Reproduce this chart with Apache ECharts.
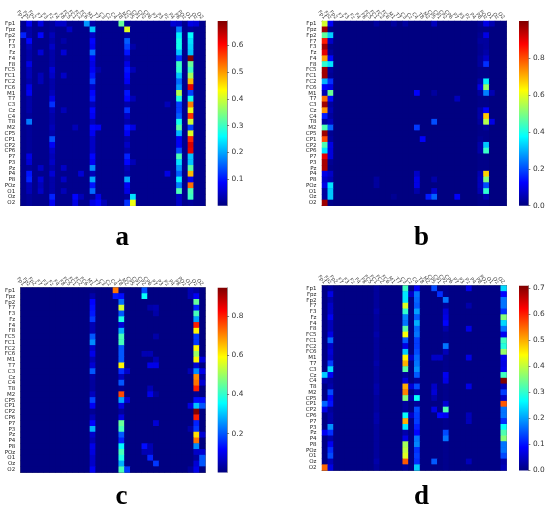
<!DOCTYPE html>
<html><head><meta charset="utf-8">
<style>html,body{margin:0;padding:0;background:#fff}#c{width:550px;height:512px;filter:blur(0.4px)}</style>
<script src="https://cdn.jsdelivr.net/npm/echarts@6/dist/echarts.min.js"></script>
</head><body><div id="c"></div>
<script>
const channels = ['Fp1','Fpz','Fp2','F7','F3','Fz','F4','F8','FC5','FC1','FC2','FC6','M1','T7','C3','Cz','C4','T8','M2','CP5','CP1','CP2','CP6','P7','P3','Pz','P4','P8','POz','O1','Oz','O2'];

// Panel a: full columns (top to bottom) and sparse cells [column, row, value]
const aCol1  = [.08,.03,.03,.09,.04,.03,.03,.07,.04,.04,.03,.07,.08,.03,.03,.03,.02,.17,.02,.02,.02,.02,.02,.07,.06,.02,.1,.11,.04,.04,.02,.02];
const aCol5  = [.02,.02,.04,.03,.05,.03,.03,.03,.06,.05,.03,.03,.04,.07,.12,.04,.03,.03,.04,.03,.14,.08,.05,.04,.05,.03,.06,.03,.03,.03,.11,.08];
const aCol12 = [.03,.22,.05,.09,.08,.16,.08,.07,.08,.1,.13,.05,.09,.1,.04,.09,.08,.04,.09,.08,.05,.05,.05,.09,.08,.18,.04,.2,.1,.16,.02,.07];
const aCol18 = [.02,.41,.03,.15,.13,.1,.04,.07,.1,.09,.08,.03,.1,.09,.03,.12,.05,.03,.1,.08,.03,.05,.03,.11,.09,.04,.03,.2,.08,.07,.02,.12];
const aCol27 = [.05,.17,.25,.27,.27,.22,.12,.3,.29,.22,.16,.19,.38,.28,.13,.13,.15,.27,.32,.21,.08,.08,.14,.31,.24,.19,.15,.25,.17,.31,.05,.05];
const aCol29 = [.07,.02,.26,.24,.23,.22,.69,.33,.3,.37,.48,.62,.13,.27,.52,.42,.57,.4,.13,.41,.58,.63,.62,.22,.22,.32,.48,.08,.53,.31,.3,.02];
const aSparse = [[0,2,.11],[3,0,.07],[3,2,.09],[3,5,.06],[3,9,.04],[3,10,.04],[3,25,.05],[3,27,.06],[3,28,.04],[3,29,.05],[6,0,.05],[7,0,.05],[7,3,.03],[7,5,.06],[7,9,.05],[7,15,.04],[7,25,.05],[7,27,.05],[7,29,.04],[8,1,.05],[9,18,.04],[9,30,.09],[9,31,.07],[10,26,.06],[10,30,.04],[11,0,.19],[13,18,.08],[13,30,.07],[13,31,.09],[13,8,.03],[14,31,.04],[17,0,.33],[19,18,.07],[19,4,.03],[19,8,.04],[19,13,.04],[19,24,.04],[19,30,.24],[19,31,.42],[25,14,.04],[25,26,.07],[26,0,.06],[30,0,.06]];

// Panel b
const bCol0  = [.58,.97,.47,.85,.97,.9,.72,.42,.97,.97,.3,.12,.05,.77,.97,.73,.15,.03,.45,.97,.8,.45,.35,.9,.96,.96,.1,.07,.1,.03,.03,.97];
const bCol1  = [.12,.01,.33,.07,.01,.03,.13,.35,.03,.02,.17,.1,.48,.13,.03,.05,.03,.06,.22,.02,.03,.1,.09,.09,.02,.01,.07,.05,.35,.32,.32,.01];
const bCol27 = [.02,.01,.02,.03,.02,.02,.03,.03,.01,.01,.04,.1,.03,.01,.01,.04,.04,.03,.01,.01,.02,.04,.04,.01,.01,.01,.05,.06,.06,.05,.01,.01];
const bCol28 = [.1,.01,.1,.03,.03,.04,.07,.17,.01,.01,.36,.52,.25,.01,.01,.12,.68,.55,.03,.01,.01,.32,.43,.01,.01,.01,.67,.5,.2,.42,.05,.01];
const bSparse = [[9,0,.03],[9,27,.03],[9,28,.03],[12,0,.03],[12,30,.02],[14,0,.03],[16,12,.12],[16,18,.18],[16,26,.07],[16,27,.1],[16,28,.1],[16,29,.04],[17,20,.12],[18,30,.15],[19,0,.06],[19,12,.03],[19,17,.2],[19,27,.04],[19,29,.08],[19,30,.22],[23,13,.06],[23,30,.12],[29,0,.05],[29,12,.05],[29,17,.1]];

// Panel c
const cCol12 = [.01,.04,.12,.13,.14,.17,.05,.05,.2,.25,.07,.1,.05,.08,.2,.04,.03,.03,.06,.18,.11,.02,.05,.12,.28,.07,.05,.1,.09,.07,.07,.11];
const cCol17 = [.01,.13,.22,.55,.2,.38,.08,.28,.42,.42,.2,.2,.2,.6,.16,.06,.2,.02,.76,.27,.09,.03,.09,.45,.42,.2,.15,.35,.42,.38,.28,.42];
const cCol30 = [.03,.11,.45,.15,.42,.27,.8,.6,.17,.17,.6,.5,.6,.08,.25,.7,.72,.8,.02,.13,.3,.94,.8,.15,.17,.62,.72,.25,.07,.03,.08,.1];
const cSparse = [[16,0,.72],[16,1,.14],[18,14,.07],[18,19,.08],[18,31,.17],[21,0,.19],[21,1,.36],[21,11,.05],[21,27,.13],[21,28,.05],[22,3,.04],[22,11,.05],[22,13,.1],[22,17,.05],[22,18,.1],[22,27,.05],[22,28,.05],[22,29,.15],[23,3,.05],[23,4,.04],[23,8,.04],[23,12,.05],[23,13,.1],[23,18,.03],[23,23,.08],[23,30,.17],[29,0,.05],[29,1,.05],[29,14,.05],[29,20,.09],[29,24,.04],[29,31,.03],[31,12,.09],[31,14,.1],[31,15,.03],[31,16,.08],[31,19,.13],[31,20,.2],[31,25,.08],[31,28,.08],[31,29,.2],[31,30,.2]];

// Panel d
const dCol1  = [.02,.07,.03,.05,.05,.08,.04,.04,.07,.16,.05,.06,.05,.13,.24,.08,.02,.03,.14,.09,.1,.02,.03,.03,.19,.12,.03,.08,.12,.14,.04,.07];
const dCol9  = [.02,.02,.02,.02,.03,.02,.02,.02,.03,.02,.02,.02,.02,.03,.02,.02,.02,.03,.03,.02,.02,.02,.03,.03,.02,.02,.02,.02,.02,.02,.03,.02];
const dCol14 = [.31,.25,.25,.42,.3,.18,.17,.33,.44,.15,.07,.23,.45,.5,.33,.02,.06,.5,.53,.36,.02,.02,.27,.5,.25,.03,.07,.38,.4,.42,.56,.02];
const dCol16 = [.08,.17,.16,.15,.2,.15,.21,.16,.17,.13,.13,.14,.16,.17,.19,.15,.02,.14,.03,.27,.02,.14,.13,.13,.11,.09,.17,.18,.12,.13,.12,.23];
const dCol21 = [.01,.01,.17,.02,.06,.07,.09,.03,.01,.01,.17,.04,.01,.01,.01,.08,.07,.01,.01,.01,.06,.32,.08,.01,.01,.14,.17,.01,.01,.01,.01,.01];
const dCol31 = [.24,.09,.17,.17,.12,.36,.24,.17,.08,.31,.29,.37,.08,.07,.08,.31,.71,.04,.13,.05,.56,.17,.17,.12,.27,.32,.36,.17,.17,.14,.03,.04];
const dSparse = [[0,15,.23],[0,16,.03],[0,20,.16],[0,21,.07],[0,25,.08],[0,31,.55],[15,1,.05],[15,12,.05],[15,17,.06],[15,19,.03],[15,22,.05],[19,0,.14],[19,12,.05],[19,17,.05],[19,18,.06],[19,19,.03],[19,21,.07],[19,30,.15],[20,1,.12],[20,12,.05],[20,22,.09],[25,0,.07],[25,3,.03],[25,7,.07],[25,12,.07],[25,17,.07],[25,22,.04],[25,23,.04],[25,30,.04]];

const jet = ['#00007f','#0000ff','#007fff','#00ffff','#7fff7f','#ffff00','#ff7f00','#ff0000','#7f0000'];
const colorTicks = {
  a:[.1,.2,.3,.4,.5,.6], b:[0,.2,.4,.6,.8], c:[.2,.4,.6,.8], d:[0,.1,.2,.3,.4,.5,.6,.7]
};
const panels = [
 {id:'a',min:.002,max:.69,base:.012,cols:{1:aCol1,5:aCol5,12:aCol12,18:aCol18,27:aCol27,29:aCol29},sparse:aSparse,left:20.7,top:21,barLeft:217.7,letter:[115.5,225]},
 {id:'b',min:0,max:1,base:.002,cols:{0:bCol0,1:bCol1,27:bCol27,28:bCol28},sparse:bSparse,left:322,top:21,barLeft:519,letter:[414,225]},
 {id:'c',min:.002,max:.945,base:.005,cols:{12:cCol12,17:cCol17,30:cCol30},sparse:cSparse,left:20.7,top:287.7,barLeft:217.7,letter:[115.5,484]},
 {id:'d',min:0,max:.71,base:.004,cols:{1:dCol1,9:dCol9,14:dCol14,16:dCol16,21:dCol21,31:dCol31},sparse:dSparse,left:322,top:285.7,barLeft:519,letter:[414,484]}
];
const PW=184.5, PH=184.7, BW=9.4;
const axisLine={lineStyle:{color:'#333',width:.6}};
const opt={animation:false,backgroundColor:'#fff',grid:[],xAxis:[],yAxis:[],series:[],visualMap:[],graphic:[]};
panels.forEach((p,i)=>{
  const g=opt.grid.length;
  opt.grid.push({left:p.left,top:p.top,width:PW,height:PH,show:true,backgroundColor:jet[0],borderWidth:0});
  const tx=opt.xAxis.length;
  opt.xAxis.push({type:'category',gridIndex:g,position:'top',data:channels,axisLine,axisTick:{length:2,alignWithLabel:true,interval:0,lineStyle:{color:'#333',width:.5}},
    axisLabel:{interval:0,rotate:50,fontSize:5.2,color:'#444',margin:2.5,fontFamily:'DejaVu Sans'},splitLine:{show:false}});
  opt.xAxis.push({type:'category',gridIndex:g,position:'bottom',data:channels,axisLine,axisTick:{length:2,alignWithLabel:true,interval:0,lineStyle:{color:'#333',width:.5}},axisLabel:{show:false},splitLine:{show:false}});
  const ty=opt.yAxis.length;
  opt.yAxis.push({type:'category',gridIndex:g,inverse:true,data:channels,axisLine,axisTick:{length:2,alignWithLabel:true,interval:0,lineStyle:{color:'#333',width:.5}},
    axisLabel:{interval:0,fontSize:5.5,color:'#222',margin:5.5,fontFamily:'DejaVu Sans'},splitLine:{show:false}});
  opt.yAxis.push({type:'category',gridIndex:g,position:'right',inverse:true,data:channels,axisLine,axisTick:{show:false},axisLabel:{show:false}});
  const m=channels.map(()=>channels.map(()=>p.base));
  Object.entries(p.cols).forEach(([c,vals])=>vals.forEach((v,r)=>{m[r][+c]=v;}));
  p.sparse.forEach(([c,r,v])=>{m[r][c]=v;});
  const data=[];
  m.forEach((row,r)=>row.forEach((v,c)=>data.push([c,r,v])));
  opt.series.push({type:'heatmap',xAxisIndex:tx,yAxisIndex:ty,data,itemStyle:{borderWidth:0},emphasis:{disabled:true},progressive:0});
  opt.visualMap.push({show:false,seriesIndex:opt.series.length-1,min:p.min,max:p.max,inRange:{color:jet},dimension:2});
  const g2=opt.grid.length;
  opt.grid.push({left:p.barLeft,top:p.top,width:BW,height:PH});
  const bx=opt.xAxis.length;
  opt.xAxis.push({type:'category',gridIndex:g2,data:[''],axisLine:{show:false},axisTick:{show:false},axisLabel:{show:false}});
  const by=opt.yAxis.length;
  opt.yAxis.push({type:'value',gridIndex:g2,position:'right',min:p.min,max:p.max,splitLine:{show:false},
    axisLine:{show:true,lineStyle:{color:'#333',width:.5}},
    axisTick:{show:true,length:2,customValues:colorTicks[p.id],lineStyle:{color:'#333',width:.6}},
    axisLabel:{show:true,customValues:colorTicks[p.id],fontSize:7.4,color:'#333',margin:4.5,fontFamily:'DejaVu Sans',formatter:v=>(+v).toFixed(1),hideOverlap:false}});
  opt.series.push({type:'bar',xAxisIndex:bx,yAxisIndex:by,data:[p.max],barWidth:'100%',silent:true,
    itemStyle:{color:{type:'linear',x:0,y:1,x2:0,y2:0,colorStops:jet.map((c,k)=>({offset:k/(jet.length-1),color:c}))}}});
  opt.graphic.push({type:'text',left:p.letter[0],top:p.letter[1],style:{text:p.id,font:'bold 27px "Liberation Serif"',fill:'#000'}});
});
const chart=echarts.init(document.getElementById('c'),null,{renderer:'canvas'});
chart.setOption(opt);
</script></body></html>
